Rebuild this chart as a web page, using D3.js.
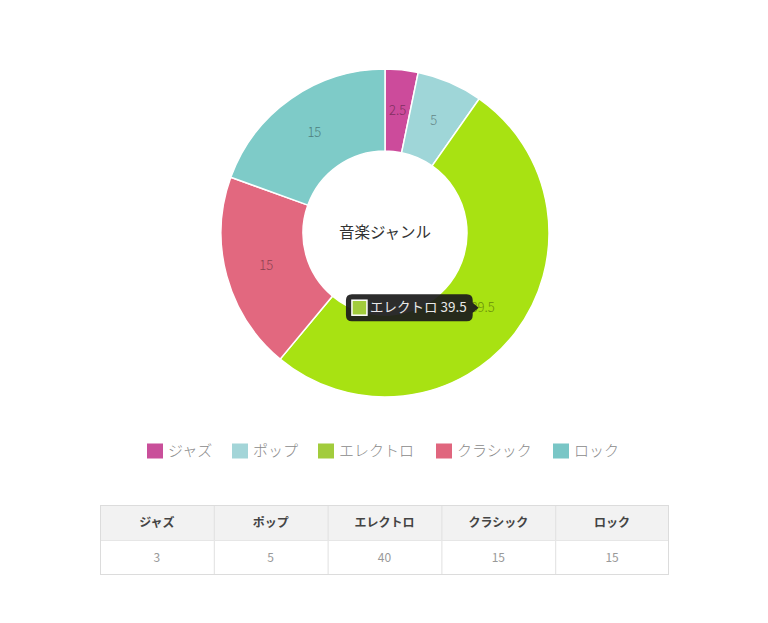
<!DOCTYPE html>
<html>
<head>
<meta charset="utf-8">
<script src="https://cdn.jsdelivr.net/npm/d3@7/dist/d3.min.js"></script>
<style>
  html, body { margin: 0; padding: 0; background: #fff; }
  svg { display: block; font-family: "Noto Sans CJK JP", "Noto Sans", sans-serif; }
</style>
</head>
<body>
<div id="chart"></div>
<script>
// Genres and values shown on the donut (labels) and in the table below
const genres = ['ジャズ', 'ポップ', 'エレクトロ', 'クラシック', 'ロック'];
const sliceValues = [2.5, 5, 39.5, 15, 15];
const tableValues = [3, 5, 40, 15, 15];
const sliceColors = ['#cc4b9b', '#9fd6d8', '#a8e212', '#e2687f', '#7ecbc8'];
const legendColors = ['#c94f9a', '#a3d5d8', '#a2cc3c', '#e0667e', '#79c6c6'];
const centerTitle = '音楽ジャンル';
const tooltipIndex = 2; // hovered slice

const width = 768, height = 623;
const cx = 385, cy = 233;
const outerR = 164, innerR = 82;

const svg = d3.select('#chart').append('svg')
  .attr('width', width)
  .attr('height', height);

// --- Donut ---
const pie = d3.pie().sort(null).value(d => d.value);
const arc = d3.arc().innerRadius(innerR).outerRadius(outerR);
const data = genres.map((g, i) => ({ name: g, value: sliceValues[i], color: sliceColors[i] }));
const arcs = pie(data);

const donut = svg.append('g').attr('transform', `translate(${cx},${cy})`);

donut.selectAll('path')
  .data(arcs)
  .join('path')
  .attr('d', arc)
  .attr('fill', d => d.data.color)
  .attr('stroke', '#fff')
  .attr('stroke-width', 1.5);

// Value labels at slice centroids, darker shade of slice colour
donut.selectAll('text.val')
  .data(arcs)
  .join('text')
  .attr('class', 'val')
  .attr('transform', d => `translate(${arc.centroid(d)})`)
  .attr('text-anchor', 'middle')
  .attr('dy', '0.35em')
  .attr('font-size', '13px')
  .attr('font-weight', 300)
  .attr('fill', d => d3.color(d.data.color).darker(1.3))
  .text(d => d.data.value);

// Title in the hole
donut.append('text')
  .attr('text-anchor', 'middle')
  .attr('dy', '0.35em')
  .attr('font-size', '15.5px')
  .attr('fill', '#333')
  .text(centerTitle);

// --- Tooltip over the electro label ---
const tipArc = arcs[tooltipIndex];
const [lx, ly] = arc.centroid(tipArc);
const tipText = `${tipArc.data.name} ${tipArc.data.value}`;
const tip = donut.append('g');
const tipLabel = tip.append('text')
  .attr('font-size', '13.5px')
  .attr('fill', '#e8e8e8')
  .attr('dy', '0.35em')
  .text(tipText);
const tw = tipLabel.node().getComputedTextLength();
const boxW = tw + 30, boxH = 27;
const right = lx - 10, left = right - boxW;
tip.insert('path', 'text')
  .attr('d', `M${left + 6},${ly - boxH / 2} H${right - 6} Q${right},${ly - boxH / 2} ${right},${ly - boxH / 2 + 6}
              V${ly - 5} L${right + 6},${ly} L${right},${ly + 5} V${ly + boxH / 2 - 6}
              Q${right},${ly + boxH / 2} ${right - 6},${ly + boxH / 2} H${left + 6}
              Q${left},${ly + boxH / 2} ${left},${ly + boxH / 2 - 6} V${ly - boxH / 2 + 6}
              Q${left},${ly - boxH / 2} ${left + 6},${ly - boxH / 2} Z`)
  .attr('fill', '#1c1c1c')
  .attr('fill-opacity', 0.93);
tip.append('rect')
  .attr('x', left + 6).attr('y', ly - 7.5)
  .attr('width', 15).attr('height', 15)
  .attr('fill', legendColors[tooltipIndex])
  .attr('stroke', '#fff').attr('stroke-width', 1.5);
tipLabel.attr('x', left + 24).attr('y', ly);

// --- Legend ---
const legendX = [147, 232, 318, 436, 553];
const legendY = 451;
const legend = svg.append('g');
genres.forEach((g, i) => {
  const item = legend.append('g').attr('transform', `translate(${legendX[i]},${legendY})`);
  item.append('rect')
    .attr('x', 0).attr('y', -7.5)
    .attr('width', 16).attr('height', 15)
    .attr('fill', legendColors[i]);
  item.append('text')
    .attr('x', 21).attr('dy', '0.35em')
    .attr('font-size', '15px')
    .attr('font-weight', 300)
    .attr('fill', '#8a8a8a')
    .text(g);
});

// --- Data table ---
const tableX0 = 100, tableX1 = 669;
const headY = 505, rowH = 35;
const col = d3.scaleBand().domain(genres).range([tableX0, tableX1]);
const table = svg.append('g');

table.append('rect')
  .attr('x', tableX0).attr('y', headY)
  .attr('width', tableX1 - tableX0).attr('height', rowH)
  .attr('fill', '#f2f2f2');

table.selectAll('line.v')
  .data(genres.slice(1))
  .join('line')
  .attr('x1', d => col(d) + 0.5).attr('x2', d => col(d) + 0.5)
  .attr('y1', headY).attr('y2', headY + rowH * 2)
  .attr('stroke', '#e0e0e0');

table.append('line')
  .attr('x1', tableX0).attr('x2', tableX1)
  .attr('y1', headY + rowH + 0.5).attr('y2', headY + rowH + 0.5)
  .attr('stroke', '#e6e6e6');

table.append('rect')
  .attr('x', tableX0 + 0.5).attr('y', headY + 0.5)
  .attr('width', tableX1 - tableX0 - 1).attr('height', rowH * 2 - 1)
  .attr('fill', 'none')
  .attr('stroke', '#dcdcdc');

table.selectAll('text.h')
  .data(genres)
  .join('text')
  .attr('class', 'h')
  .attr('x', d => col(d) + col.bandwidth() / 2)
  .attr('y', headY + rowH / 2)
  .attr('dy', '0.35em')
  .attr('text-anchor', 'middle')
  .attr('font-size', '12px')
  .attr('font-weight', 700)
  .attr('fill', '#444')
  .text(d => d);

table.selectAll('text.v')
  .data(genres)
  .join('text')
  .attr('class', 'v')
  .attr('x', d => col(d) + col.bandwidth() / 2)
  .attr('y', headY + rowH * 1.5)
  .attr('dy', '0.35em')
  .attr('text-anchor', 'middle')
  .attr('font-size', '12px')
  .attr('fill', '#999')
  .text((d, i) => tableValues[i]);
</script>
</body>
</html>
